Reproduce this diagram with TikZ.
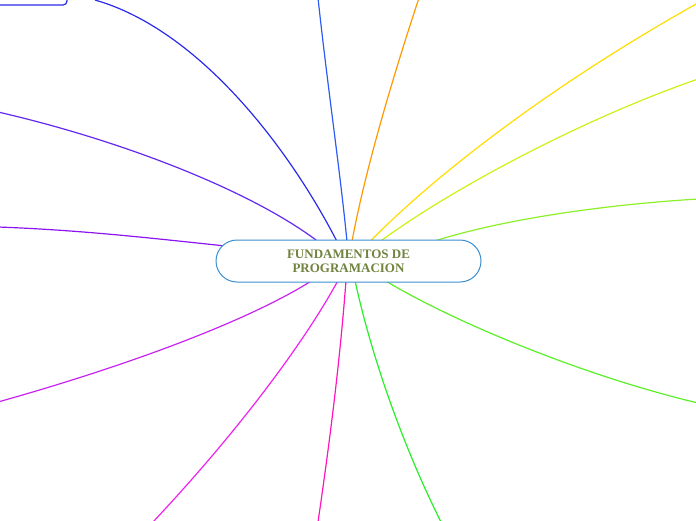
\documentclass[tikz,border=0pt]{standalone}
\usepackage{fontspec}
\setmainfont{Liberation Serif}
\usetikzlibrary{backgrounds}

\definecolor{hubborder}{RGB}{58,142,208}
\definecolor{hubtext}{RGB}{112,132,64}
\definecolor{brA}{RGB}{42,42,232}
\definecolor{brB}{RGB}{44,92,245}
\definecolor{brC}{RGB}{255,153,0}
\definecolor{brD}{RGB}{255,221,0}
\definecolor{brE}{RGB}{208,240,20}
\definecolor{brF}{RGB}{140,240,40}
\definecolor{brG}{RGB}{90,240,40}
\definecolor{brH}{RGB}{40,240,40}
\definecolor{brI}{RGB}{255,20,190}
\definecolor{brJ}{RGB}{238,34,238}
\definecolor{brK}{RGB}{200,34,240}
\definecolor{brL}{RGB}{140,20,240}
\definecolor{brM}{RGB}{100,40,240}

\tikzset{
  hub/.style={draw=hubborder, line width=1pt, fill=white, rounded corners=21pt,
    minimum width=265pt, minimum height=42pt, align=center, text=hubtext,
    font=\fontsize{13}{14.4}\selectfont\bfseries},
  branch/.style={line width=1.2pt},
  leafbox/.style={draw=brA, line width=1.2pt, rounded corners=4pt,
    minimum width=100pt, minimum height=40pt}
}

\begin{document}
\begin{tikzpicture}[x=1pt,y=-1pt]
\useasboundingbox (0,0) rectangle (696,520);
\clip (0,0) rectangle (696,520);
%----central topic------------------------------
\node[hub] (hub) at (348.5,261) {FUNDAMENTOS DE\\PROGRAMACION};
%----topic cut at the top left------------------
\node[leafbox] (leaf) at (17,-15) {};
%----free ends of the branches------------------
\coordinate (a) at (95,0);
\coordinate (b) at (318,-2);
\coordinate (c) at (419,-2);
\coordinate (d) at (698,3);
\coordinate (e) at (698,79);
\coordinate (f) at (698,199);
\coordinate (g) at (698,403);
\coordinate (h) at (441,522);
\coordinate (i) at (318,522);
\coordinate (j) at (153,522);
\coordinate (k) at (-2,402);
\coordinate (l) at (-2,227);
\coordinate (m) at (-2,112);
%----branches, under the central topic----------
\begin{scope}[on background layer]
\draw[branch,brA] ([xshift=-11.5pt,yshift=-2pt]hub.north) .. controls (290,150) and (200,30) .. (a);
\draw[branch,brB] ([xshift=-1.5pt,yshift=-2pt]hub.north) .. controls (340,170) and (328,90) .. (b);
\draw[branch,brC] ([xshift=3.5pt,yshift=-2pt]hub.north) .. controls (365,170) and (395,70) .. (c);
\draw[branch,brD] ([xshift=21.5pt,yshift=-2pt]hub.north) .. controls (440,170) and (560,80) .. (d);
\draw[branch,brE] ([xshift=31.5pt,yshift=-2pt]hub.north) .. controls (450,190) and (580,120) .. (e);
\draw[branch,brF] ([xshift=84.5pt,yshift=-2pt]hub.north) .. controls (500,220) and (600,205) .. (f);
\draw[branch,brG] ([xshift=36.5pt,yshift=2pt]hub.south) .. controls (450,320) and (580,375) .. (g);
\draw[branch,brH] ([xshift=6.5pt,yshift=2pt]hub.south) .. controls (370,350) and (400,440) .. (h);
\draw[branch,brI] ([xshift=-2.5pt,yshift=2pt]hub.south) .. controls (340,360) and (330,440) .. (i);
\draw[branch,brJ] ([xshift=-10.5pt,yshift=2pt]hub.south) .. controls (300,350) and (230,440) .. (j);
\draw[branch,brK] ([xshift=-36.5pt,yshift=2pt]hub.south) .. controls (250,320) and (130,365) .. (k);
\draw[branch,brL] ([xshift=10pt,yshift=15pt]hub.west) .. controls (150,238) and (80,230) .. (l);
\draw[branch,brM] ([xshift=-30.5pt,yshift=-2pt]hub.north) .. controls (250,190) and (120,140) .. (m);
\end{scope}
\end{tikzpicture}
\end{document}
